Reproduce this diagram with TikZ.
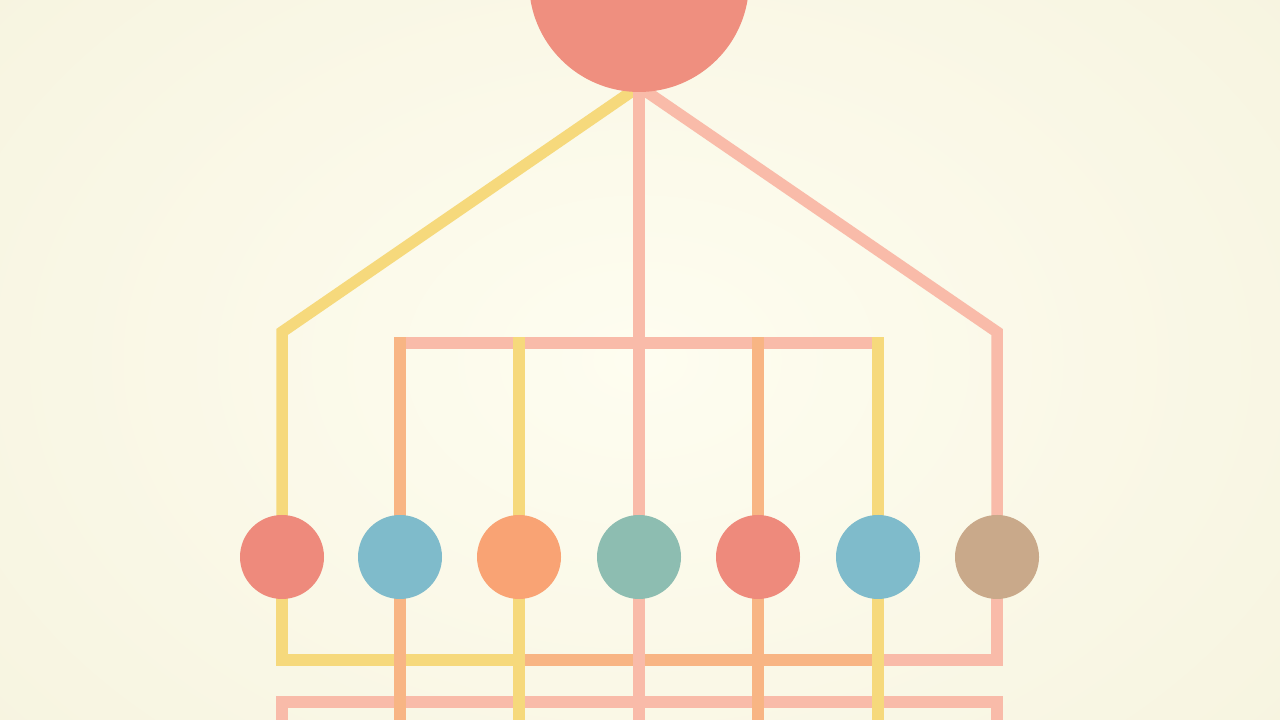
\documentclass[tikz,border=0pt]{standalone}
\usetikzlibrary{backgrounds}

\definecolor{paperin}{HTML}{FEFDF0}
\definecolor{paperout}{HTML}{F6F3DE}
\definecolor{rootred}{HTML}{EF8F7F}
\definecolor{dotred}{HTML}{EE8A7C}
\definecolor{dotblue}{HTML}{7FBBCB}
\definecolor{dotorange}{HTML}{F9A374}
\definecolor{dotteal}{HTML}{8DBDB1}
\definecolor{dottan}{HTML}{C9A98A}
\definecolor{wireyellow}{HTML}{F6D97C}
\definecolor{wirepink}{HTML}{F9BBA9}
\definecolor{wireorange}{HTML}{F8B584}

\begin{document}
\begin{tikzpicture}[
    dot/.style={circle, minimum size=0.84cm, inner sep=0pt},
    wire/.style={line width=0.115cm, line cap=rect}
    ]
    \useasboundingbox (0,0) rectangle (12.8,7.2);
    \clip (0,0) rectangle (12.8,7.2);
    % nodes
    \node[circle, fill=rootred, minimum size=2.2cm, inner sep=0pt] (root) at (6.39,7.38) {};
    \node[dot, fill=dotred] (c1) at (2.82,1.63) {};
    \node[dot, fill=dotblue] (c2) at (4.00,1.63) {};
    \node[dot, fill=dotorange] (c3) at (5.19,1.63) {};
    \node[dot, fill=dotteal] (c4) at (6.39,1.63) {};
    \node[dot, fill=dotred] (c5) at (7.58,1.63) {};
    \node[dot, fill=dotblue] (c6) at (8.78,1.63) {};
    \node[dot, fill=dottan] (c7) at (9.97,1.63) {};
    % corners
    \coordinate (lk) at (2.82,3.88);
    \coordinate (rk) at (9.97,3.88);
    \coordinate (topbar) at (0,3.77);
    \coordinate (midbar) at (0,0.60);
    \coordinate (lowbar) at (0,0.18);
    \coordinate (floor) at (0,-0.1);
    \begin{scope}[on background layer]
      \shade[inner color=paperin, outer color=paperout] (-3,-3) rectangle (15.8,10.2);
      % from the root
      \draw[wire, wireyellow, line join=miter] ([xshift=-0.9mm]root.south) -- (lk) -- (c1);
      \draw[wire, wirepink, line join=miter] ([xshift=0.9mm]root.south) -- (rk) -- (c7);
      \draw[wire, wirepink] (c2 |- topbar) -- (c6 |- topbar);
      % lower bars
      \draw[wire, wireyellow] (c1) -- (c1 |- midbar) -- (c3 |- midbar);
      \draw[wire, wireorange] (c3 |- midbar) -- (c6 |- midbar);
      \draw[wire, wirepink] (c6 |- midbar) -- (c7 |- midbar) -- (c7);
      \draw[wire, wirepink] (c1 |- floor) -- (c1 |- lowbar) -- (c7 |- lowbar) -- (c7 |- floor);
      % drops
      \draw[wire, wirepink] (root.south) -- (c4) -- (c4 |- floor);
      \foreach \n/\c in {c2/wireorange, c3/wireyellow, c5/wireorange, c6/wireyellow}
        \draw[wire, \c] (\n |- topbar) -- (\n) -- (\n |- floor);
    \end{scope}
\end{tikzpicture}
\end{document}
